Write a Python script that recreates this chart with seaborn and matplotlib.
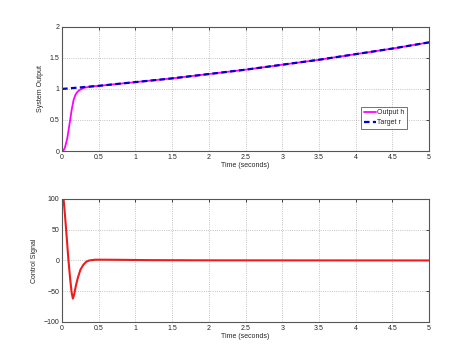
import numpy as np
import pandas as pd
import matplotlib
matplotlib.use('Agg')
import matplotlib.pyplot as plt
import seaborn as sns

# values
time_r = [0.0, 0.5, 1.0, 1.5, 2.0, 2.5, 3.0, 3.5, 4.0, 4.5, 5.0]
target_r = [1.0, 1.05, 1.11, 1.17, 1.24, 1.31, 1.39, 1.47, 1.56, 1.65, 1.75]

time_h = [0.0, 0.02, 0.04, 0.07, 0.09, 0.11, 0.13, 0.156, 0.18, 0.2, 0.22,
          0.25, 0.3, 0.35, 0.4, 0.5, 1.0, 1.5, 2.0, 2.5, 3.0, 3.5, 4.0, 4.5, 5.0]
output_h = [0.0, 0.01, 0.06, 0.2, 0.35, 0.5, 0.66, 0.82, 0.9, 0.94, 0.965,
            0.99, 1.02, 1.03, 1.04, 1.05, 1.11, 1.17, 1.24, 1.31, 1.39, 1.47, 1.56, 1.65, 1.75]

time_u = [0.0, 0.02, 0.035, 0.055, 0.087, 0.11, 0.13, 0.147, 0.165, 0.19, 0.215,
          0.25, 0.29, 0.33, 0.37, 0.45, 0.6, 0.8, 1.2, 2.0, 5.0]
control_u = [100, 100, 80, 50, 0, -30, -52, -62, -55, -40, -28,
             -15, -7, -2, 0, 1.2, 1.2, 1.0, 0.5, 0.2, 0.0]

df_r = pd.DataFrame({'t': time_r, 'v': target_r})
df_h = pd.DataFrame({'t': time_h, 'v': output_h})
df_u = pd.DataFrame({'t': time_u, 'v': control_u})

sns.set_style('white')
plt.rcParams['font.family'] = ['Liberation Sans', 'DejaVu Sans']

fig = plt.figure(figsize=(4.74, 3.63), dpi=100)
ax1 = fig.add_axes([0.131, 0.584, 0.774, 0.342])
ax2 = fig.add_axes([0.131, 0.113, 0.774, 0.339])

sns.lineplot(data=df_h, x='t', y='v', ax=ax1, color='#ff00ff', lw=1.3, label='Output h')
sns.lineplot(data=df_r, x='t', y='v', ax=ax1, color='#0000cc', lw=1.6,
             linestyle=(0, (2.5, 1.5)), label='Target r')
sns.lineplot(data=df_u, x='t', y='v', ax=ax2, color='#ee1c1c', lw=1.5)

ax1.set_ylim(0, 2)
ax1.set_yticks([0, 0.5, 1, 1.5, 2])
ax1.set_yticklabels(['0', '0.5', '1', '1.5', '2'])
ax1.set_ylabel('System Output', fontsize=5)
ax2.set_ylim(-100, 100)
ax2.set_yticks([-100, -50, 0, 50, 100])
ax2.set_ylabel('Control Signal', fontsize=5)

for ax in (ax1, ax2):
    ax.set_xlim(0, 5)
    ax.set_xticks([0, 0.5, 1, 1.5, 2, 2.5, 3, 3.5, 4, 4.5, 5])
    ax.set_xticklabels(['0', '0.5', '1', '1.5', '2', '2.5', '3', '3.5', '4', '4.5', '5'])
    ax.set_xlabel('Time (seconds)', fontsize=5, labelpad=1)
    ax.grid(True, linestyle=':', color='#b0b0b0', lw=0.6)
    ax.tick_params(direction='in', length=2.5, width=0.6, labelsize=5, pad=2,
                   top=True, right=True)
    for s in ax.spines.values():
        s.set_color('#555555')
        s.set_linewidth(0.8)

leg = ax1.legend(loc='lower left', bbox_to_anchor=(0.815, 0.18), fontsize=5,
                 frameon=True, fancybox=False, handlelength=1.8, handletextpad=0.2,
                 borderpad=0.35, labelspacing=0.45, borderaxespad=0)
leg.get_frame().set_edgecolor('#333333')
leg.get_frame().set_linewidth(0.6)

fig.savefig('out.png', dpi=100)
